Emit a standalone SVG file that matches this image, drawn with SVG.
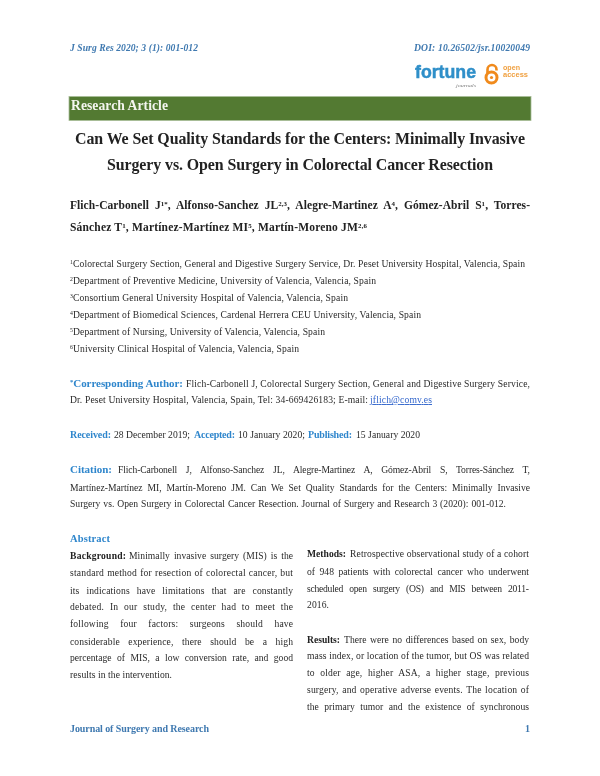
<svg xmlns="http://www.w3.org/2000/svg" width="600" height="776" viewBox="0 0 600 776">
<style>
text{font-family:"Liberation Serif","Times New Roman",serif;fill:#2a2a2a;font-size:9.6px}
.h{fill:#3f79b0;font-weight:bold;font-style:italic;font-size:9.6px}
.t{font-size:15.9px;font-weight:bold;fill:#222;text-anchor:middle}
.a{font-size:11.5px;font-weight:bold;fill:#222}
.b{font-weight:bold;fill:#222}
.c{font-weight:bold;fill:#2f86cc;font-size:10px}
.f{font-weight:bold;fill:#3f79b0;font-size:10px}
.s{font-size:60%;baseline-shift:super}
</style>
<defs><filter id="soft" x="-2%" y="-2%" width="104%" height="104%"><feGaussianBlur stdDeviation="0.4"/></filter>
<filter id="soft2" x="-20%" y="-20%" width="140%" height="140%"><feGaussianBlur stdDeviation="0.5"/></filter></defs>
<rect width="600" height="776" fill="#fff"/>
<g id="page" filter="url(#soft)">
<g id="header">
<text class="h" x="70" y="51" textLength="128" lengthAdjust="spacing">J Surg Res 2020; 3 (1): 001-012</text>
<text class="h" x="414" y="51" textLength="116" lengthAdjust="spacing">DOI: 10.26502/jsr.10020049</text>
</g>
<g id="logo" filter="url(#soft2)">
<text x="415" y="78" style="font-family:'Liberation Sans',sans-serif;font-weight:bold;font-size:19px;fill:#2f8fc9;stroke:#2f8fc9;stroke-width:0.500px" textLength="61" lengthAdjust="spacingAndGlyphs">fortune</text>
<text x="456" y="87" style="font-size:4.500px;font-style:italic;fill:#777" textLength="20" lengthAdjust="spacingAndGlyphs">journals</text>
<circle cx="491.500" cy="77.500" r="5.500" fill="none" stroke="#f08a1d" stroke-width="3"/>
<circle cx="491.500" cy="77.500" r="1.600" fill="#f08a1d"/>
<path d="M487.500 73v-3.500a4.500 4.500 0 0 1 9 0v1" fill="none" stroke="#f08a1d" stroke-width="2.600"/>
<text x="503" y="70" style="font-family:'Liberation Sans',sans-serif;font-size:6.500px;fill:#f0a040;font-weight:bold" textLength="17" lengthAdjust="spacingAndGlyphs">open</text>
<text x="503" y="77" style="font-family:'Liberation Sans',sans-serif;font-size:6.500px;fill:#f0a040;font-weight:bold" textLength="25" lengthAdjust="spacingAndGlyphs">access</text>
</g>
<g id="banner">
<rect x="69" y="96.500" width="462" height="24" fill="#527a33" stroke="#a9bd98" stroke-width="0.800"/>
<text x="71" y="109.500" style="font-size:13.6px;font-weight:bold;fill:#f4f6ef" textLength="97" lengthAdjust="spacing">Research Article</text>
</g>
<g id="title">
<text class="t" x="300" y="144" textLength="450" lengthAdjust="spacing">Can We Set Quality Standards for the Centers: Minimally Invasive</text>
<text class="t" x="300" y="170" textLength="386" lengthAdjust="spacing">Surgery vs. Open Surgery in Colorectal Cancer Resection</text>
</g>
<g id="authors">
<text class="a" x="70" y="209" textLength="460" lengthAdjust="spacing" style="word-spacing:3px">Flich-Carbonell J<tspan class="s">1*</tspan>, Alfonso-Sanchez JL<tspan class="s">2,3</tspan>, Alegre-Martinez A<tspan class="s">4</tspan>, Gómez-Abril S<tspan class="s">1</tspan>, Torres-</text>
<text class="a" x="70" y="231" textLength="297" lengthAdjust="spacing">Sánchez T<tspan class="s">1</tspan>, Martínez-Martínez MI<tspan class="s">5</tspan>, Martín-Moreno JM<tspan class="s">2,6</tspan></text>
</g>
<g id="affiliations">
<text x="70" y="267" textLength="455" lengthAdjust="spacing"><tspan class="s">1</tspan>Colorectal Surgery Section, General and Digestive Surgery Service, Dr. Peset University Hospital, Valencia, Spain</text>
<text x="70" y="284" textLength="306" lengthAdjust="spacing"><tspan class="s">2</tspan>Department of Preventive Medicine, University of Valencia, Valencia, Spain</text>
<text x="70" y="301" textLength="278" lengthAdjust="spacing"><tspan class="s">3</tspan>Consortium General University Hospital of Valencia, Valencia, Spain</text>
<text x="70" y="318" textLength="351" lengthAdjust="spacing"><tspan class="s">4</tspan>Department of Biomedical Sciences, Cardenal Herrera CEU University, Valencia, Spain</text>
<text x="70" y="335" textLength="255" lengthAdjust="spacing"><tspan class="s">5</tspan>Department of Nursing, University of Valencia, Valencia, Spain</text>
<text x="70" y="352" textLength="229" lengthAdjust="spacing"><tspan class="s">6</tspan>University Clinical Hospital of Valencia, Valencia, Spain</text>
</g>
<g id="correspondence">
<text class="c" x="70" y="387" style="font-size:11px" textLength="113" lengthAdjust="spacing"><tspan class="s">*</tspan>Corresponding Author:</text>
<text x="186" y="387" textLength="344" lengthAdjust="spacing">Flich-Carbonell J, Colorectal Surgery Section, General and Digestive Surgery Service,</text>
<text x="70" y="403" textLength="298" lengthAdjust="spacing">Dr. Peset University Hospital, Valencia, Spain, Tel: 34-669426183; E-mail:</text>
<text x="370" y="403" style="fill:#3366cc;text-decoration:underline" textLength="62" lengthAdjust="spacing">jflich@comv.es</text>
</g>
<g id="dates">
<text class="c" x="70" y="438" textLength="41" lengthAdjust="spacing">Received:</text>
<text x="114" y="438" textLength="76" lengthAdjust="spacing">28 December 2019;</text>
<text class="c" x="194" y="438" textLength="41" lengthAdjust="spacing">Accepted:</text>
<text x="238" y="438" textLength="67" lengthAdjust="spacing">10 January 2020;</text>
<text class="c" x="308" y="438" textLength="44" lengthAdjust="spacing">Published:</text>
<text x="356" y="438" textLength="64" lengthAdjust="spacing">15 January 2020</text>
</g>
<g id="citation">
<text class="c" x="70" y="473" style="font-size:11px" textLength="42" lengthAdjust="spacing">Citation:</text>
<text x="118" y="473" textLength="412" lengthAdjust="spacing" style="word-spacing:6.500px">Flich-Carbonell J, Alfonso-Sanchez JL, Alegre-Martinez A, Gómez-Abril S, Torres-Sánchez T,</text>
<text x="70" y="491" textLength="460" lengthAdjust="spacing" style="word-spacing:2.500px">Martínez-Martínez MI, Martín-Moreno JM. Can We Set Quality Standards for the Centers: Minimally Invasive</text>
<text x="70" y="507" textLength="436" lengthAdjust="spacing" style="word-spacing:0.500px">Surgery vs. Open Surgery in Colorectal Cancer Resection. Journal of Surgery and Research 3 (2020): 001-012.</text>
</g>
<g id="abstract">
<text class="c" x="70" y="542" style="font-size:10.500px" textLength="40" lengthAdjust="spacing">Abstract</text>
<text class="b" x="70" y="559" textLength="56" lengthAdjust="spacing">Background:</text>
<text x="129" y="559" textLength="164" lengthAdjust="spacing" style="word-spacing:1.500px">Minimally invasive surgery (MIS) is the</text>
<text x="70" y="576" textLength="223" lengthAdjust="spacing" style="word-spacing:0.500px">standard method for resection of colorectal cancer, but</text>
<text x="70" y="594" textLength="223" lengthAdjust="spacing" style="word-spacing:4.500px">its indications have limitations that are constantly</text>
<text x="70" y="610" textLength="223" lengthAdjust="spacing" style="word-spacing:3px">debated. In our study, the center had to meet the</text>
<text x="70" y="627" textLength="223" lengthAdjust="spacing" style="word-spacing:9px">following four factors: surgeons should have</text>
<text x="70" y="645" textLength="223" lengthAdjust="spacing" style="word-spacing:6px">considerable experience, there should be a high</text>
<text x="70" y="661" textLength="223" lengthAdjust="spacing" style="word-spacing:3px">percentage of MIS, a low conversion rate, and good</text>
<text x="70" y="678" textLength="102" lengthAdjust="spacing">results in the intervention.</text>
<text class="b" x="307" y="557" textLength="39" lengthAdjust="spacing">Methods:</text>
<text x="350" y="557" textLength="179" lengthAdjust="spacing">Retrospective observational study of a cohort</text>
<text x="307" y="575" textLength="222" lengthAdjust="spacing" style="word-spacing:2px">of 948 patients with colorectal cancer who underwent</text>
<text x="307" y="592" textLength="222" lengthAdjust="spacing" style="word-spacing:4px">scheduled open surgery (OS) and MIS between 2011-</text>
<text x="307" y="608" textLength="22" lengthAdjust="spacing">2016.</text>
<text class="b" x="307" y="643" textLength="33" lengthAdjust="spacing">Results:</text>
<text x="344" y="643" textLength="185" lengthAdjust="spacing" style="word-spacing:1.200px">There were no differences based on sex, body</text>
<text x="307" y="659" textLength="222" lengthAdjust="spacing">mass index, or location of the tumor, but OS was related</text>
<text x="307" y="676" textLength="222" lengthAdjust="spacing" style="word-spacing:3px">to older age, higher ASA, a higher stage, previous</text>
<text x="307" y="693" textLength="222" lengthAdjust="spacing" style="word-spacing:1px">surgery, and operative adverse events. The location of</text>
<text x="307" y="710" textLength="222" lengthAdjust="spacing" style="word-spacing:3px">the primary tumor and the existence of synchronous</text>
</g>
<g id="footer">
<text class="f" x="70" y="732" textLength="139" lengthAdjust="spacing">Journal of Surgery and Research</text>
<text class="f" x="525" y="732">1</text>
</g>
</g>
</svg>
